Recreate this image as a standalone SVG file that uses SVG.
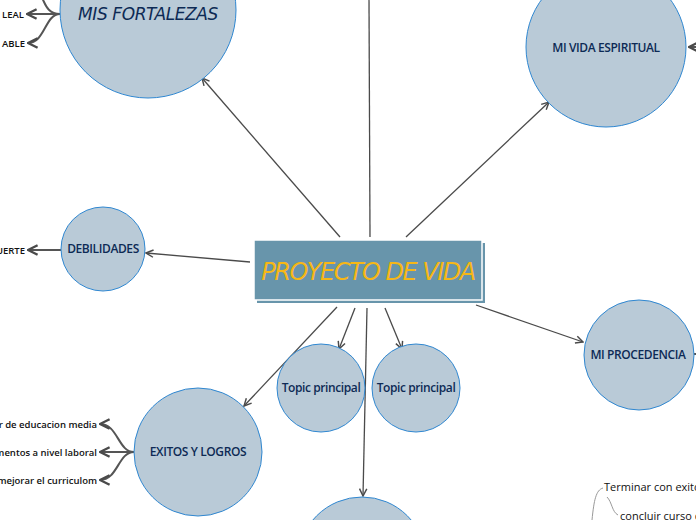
<svg xmlns="http://www.w3.org/2000/svg" width="696" height="520" viewBox="0 0 696 520">
<defs>
<marker id="a" viewBox="0 0 10 10" refX="9" refY="5" markerWidth="7" markerHeight="7" orient="auto-start-reverse"><path d="M1,1 L9,5 L1,9" fill="none" stroke="#4a4a4a" stroke-width="1.6"/></marker>
<marker id="s" viewBox="0 0 10 10" refX="9" refY="5" markerWidth="6" markerHeight="6" orient="auto"><path d="M1,1 L9,5 L1,9" fill="none" stroke="#4a4a4a" stroke-width="2"/></marker>
</defs>
<style>
.n{fill:#b9cad7;stroke:#2f87d1;stroke-width:1}
.t{font-family:"Open Sans","DejaVu Sans",sans-serif;font-size:12px;font-weight:600;fill:#0d2a55;text-anchor:middle;letter-spacing:-0.4px}
.l{font-family:"Open Sans","DejaVu Sans",sans-serif;font-size:9.5px;font-weight:600;fill:#111;text-anchor:end}
.c{stroke:#4a4a4a;stroke-width:1.3;fill:none}
.b{stroke:#555;stroke-width:2;fill:none}
</style>
<rect width="696" height="520" fill="#fff"/>
<g id="connectors">
<line class="c" x1="369" y1="0" x2="370" y2="237"/>
<line class="c" x1="340" y1="237" x2="202" y2="78" marker-end="url(#a)"/>
<line class="c" x1="406" y1="237" x2="549" y2="102" marker-end="url(#a)"/>
<line class="c" x1="250" y1="262" x2="146" y2="253" marker-end="url(#a)"/>
<line class="c" x1="476" y1="305" x2="583" y2="342" marker-end="url(#a)"/>
<line class="c" x1="355" y1="308" x2="339" y2="349" marker-end="url(#a)"/>
<line class="c" x1="385" y1="308" x2="402" y2="349" marker-end="url(#a)"/>
<line class="c" x1="337" y1="307" x2="244" y2="406" marker-end="url(#a)"/>
<line class="c" x1="367" y1="308" x2="363" y2="496" marker-end="url(#a)"/>
<path class="b" d="M60,14 C45,14 45,0 40,-5"/>
<path class="b" d="M60,14 L27,14" marker-end="url(#s)"/>
<path class="b" d="M60,14 C45,14 45,43 28,43" marker-end="url(#s)"/>
<path class="b" d="M61,250 L28,250" marker-end="url(#s)"/>
<path class="b" d="M134,452 C118,452 118,424 100,424" marker-end="url(#s)"/>
<path class="b" d="M134,452 L100,452" marker-end="url(#s)"/>
<path class="b" d="M134,452 C118,452 118,480 100,480" marker-end="url(#s)"/>
<path class="b" d="M696,47 L689,47" marker-end="url(#s)"/>
<line class="b" x1="694" y1="354" x2="696" y2="354"/>
<path d="M603,488 C596,490 594,500 592,520" stroke="#999" fill="none"/>
<path d="M607,497 C612,502 612,512 618,515" stroke="#999" fill="none"/>
</g>
<g id="fortalezas"><circle class="n" cx="148" cy="10" r="88"/><text class="t" x="148" y="20" style="font-size:17px;font-weight:normal;font-family:'DejaVu Sans',sans-serif;font-style:italic">MIS FORTALEZAS</text></g>
<text class="l" x="24" y="18">LEAL</text>
<text class="l" x="25" y="47">ABLE</text>
<g id="espiritual"><circle class="n" cx="606" cy="47" r="80"/><text class="t" x="606" y="52">MI VIDA ESPIRITUAL</text></g>
<g id="debilidades"><circle class="n" cx="103" cy="249" r="42"/><text class="t" x="103" y="253">DEBILIDADES</text></g>
<text class="l" x="25" y="254">UERTE</text>
<g id="procedencia"><circle class="n" cx="639" cy="355" r="55"/><text class="t" x="638" y="359">MI  PROCEDENCIA</text></g>
<g id="topic1"><circle class="n" cx="321" cy="388" r="44"/><text class="t" x="321" y="392">Topic principal</text></g>
<g id="topic2"><circle class="n" cx="416" cy="388" r="44"/><text class="t" x="416" y="392">Topic principal</text></g>
<g id="exitos"><circle class="n" cx="198" cy="452" r="64"/><text class="t" x="198" y="456">EXITOS Y LOGROS</text></g>
<text class="l" x="97" y="428">r de educacion media</text>
<text class="l" x="97" y="456">mentos a nivel laboral</text>
<text class="l" x="97" y="484">mejorar el curriculom</text>
<g id="bottom"><circle class="n" cx="362" cy="561" r="64"/></g>
<g id="center">
<rect x="257" y="243" width="228" height="60" fill="#6895ab"/>
<rect x="254" y="240" width="228" height="60" fill="#6895ab" stroke="#fff" stroke-width="1.5"/>
<text x="368" y="280" text-anchor="middle" style="font-family:'DejaVu Sans',sans-serif;font-style:italic;font-size:24px;fill:#f7b716;letter-spacing:-1.5px">PROYECTO DE VIDA</text>
</g>
<text x="604" y="491" style="font-family:'Open Sans',sans-serif;font-size:11px;fill:#111">Terminar con exito</text>
<text x="620" y="520" style="font-family:'Open Sans',sans-serif;font-size:11px;fill:#111">concluir curso d</text>
</svg>
